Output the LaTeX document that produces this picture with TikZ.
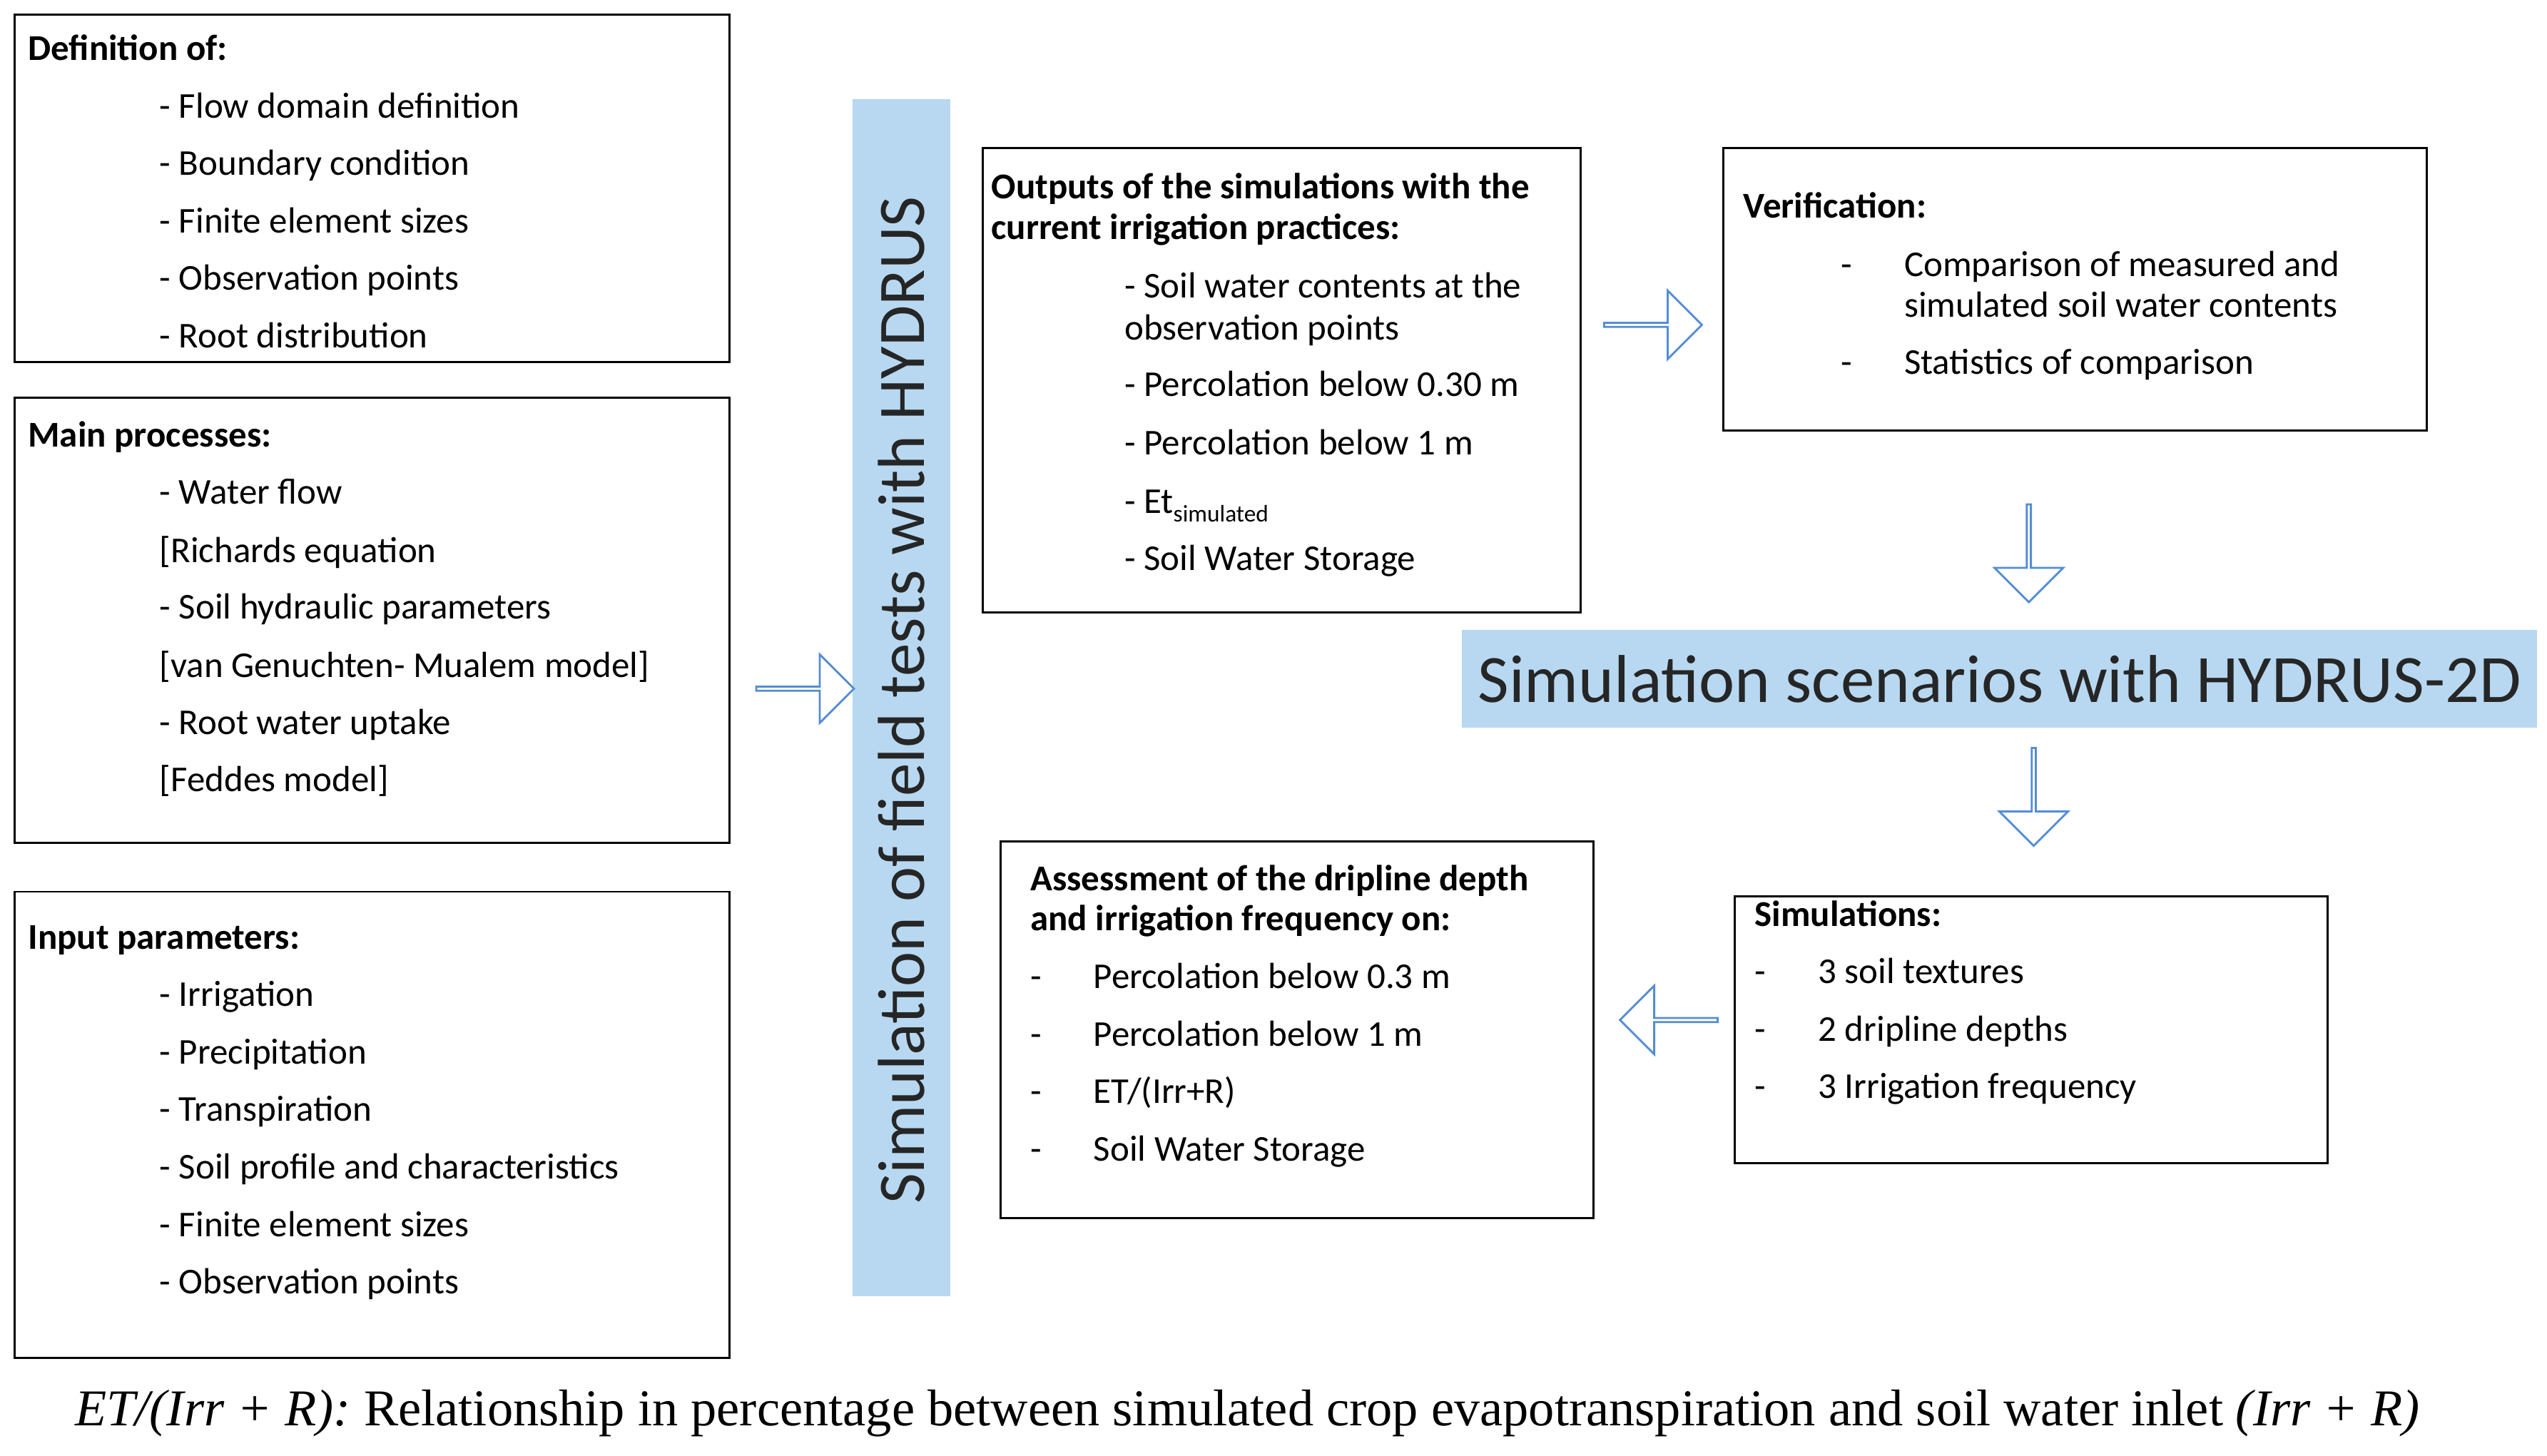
\documentclass[tikz,border=0pt]{standalone}
\usepackage{fontspec}
\setmainfont{Carlito}
\newfontfamily\capfont{Liberation Serif}
\usetikzlibrary{shapes.arrows}
\definecolor{barblue}{RGB}{183,216,240}
\definecolor{arrblue}{RGB}{84,141,212}
\tikzset{
  box/.style={draw=black, thick},
  txt/.style={anchor=base west, inner sep=0pt, yshift=-0.14cm, font=\fontsize{14.5}{17}\selectfont},
  btxt/.style={txt, font=\fontsize{14.5}{17}\selectfont\bfseries},
  blk/.style={single arrow, draw=arrblue, thick, fill=white, inner sep=0pt,
    single arrow head extend=0.22cm, minimum width=0.96cm, minimum height=1.37cm},
}
\begin{document}
\begin{tikzpicture}[x=0.02277cm, y=-0.02277cm]
\useasboundingbox (0,0) rectangle (1568,896);
% left boxes
\draw[box] (9,9) rectangle (449,223);
\draw[box] (9,245) rectangle (449,519);
\draw[box] (9,549) rectangle (449,836);
\node[btxt] (d0) at (17,31) {Definition of:};
\foreach \t [count=\i] in {Flow domain definition, Boundary condition, Finite element sizes, Observation points, Root distribution}
  \node[txt] (d\i) at (98,{31+35.4*\i}) {- \t};
\node[btxt] (m0) at (17,269) {Main processes:};
\node[txt] (m1) at (98,304) {- Water flow};
\node[txt] (m2) at (98,340) {[Richards equation};
\node[txt] (m3) at (98,375) {- Soil hydraulic parameters};
\node[txt] (m4) at (98,411) {[van Genuchten- Mualem model]};
\node[txt] (m5) at (98,446) {- Root water uptake};
\node[txt] (m6) at (98,481) {[Feddes model]};
\node[btxt] (p0) at (17,578) {Input parameters:};
\foreach \t [count=\i] in {Irrigation, Precipitation, Transpiration, Soil profile and characteristics, Finite element sizes, Observation points}
  \node[txt] (p\i) at (98,{578+35.4*\i}) {- \t};
% vertical bar
\fill[barblue] (525,61) rectangle (585,798);
\node[rotate=90, font=\fontsize{26.5}{30}\selectfont, text=black!85] (bar) at (555,431) {Simulation of field tests with HYDRUS};
% outputs
\draw[box] (605,91) rectangle (973,377);
\node[btxt] (o0) at (610,116) {Outputs of the simulations with the};
\node[btxt] (o0b) at (610,141) {current irrigation practices:};
\node[txt] (o1) at (692,177) {- Soil water contents at the};
\node[txt] (o1b) at (692,203) {observation points};
\node[txt] (o2) at (692,238) {- Percolation below 0.30 m};
\node[txt] (o3) at (692,274) {- Percolation below 1 m};
\node[txt] (o4) at (692,310) {- Et\raisebox{-0.5ex}{\fontsize{9.5}{9}\selectfont simulated}};
\node[txt] (o5) at (692,345) {- Soil Water Storage};
% verification
\draw[box] (1061,91) rectangle (1494,265);
\node[btxt] (v0) at (1073,128) {Verification:};
\node[txt] (v1d) at (1133,164) {-};
\node[txt] (v1) at (1172,164) {Comparison of measured and};
\node[txt] (v1b) at (1172,189) {simulated soil water contents};
\node[txt] (v2d) at (1133,224) {-};
\node[txt] (v2) at (1172,224) {Statistics of comparison};
% scenarios band
\fill[barblue] (900,388) rectangle (1562,448);
\node[font=\fontsize{27}{30}\selectfont, text=black!85] (sc) at (1231,418) {Simulation scenarios with HYDRUS-2D};
% assessment
\draw[box] (616,518) rectangle (981,750);
\node[btxt] (a0) at (634,542) {Assessment of the dripline depth};
\node[btxt] (a0b) at (634,567) {and irrigation frequency on:};
\foreach \t [count=\i] in {Percolation below 0.3 m, Percolation below 1 m, ET/(Irr+R), Soil Water Storage}{
  \node[txt] (ad\i) at (634,{567+35.4*\i}) {-};
  \node[txt] (a\i) at (673,{567+35.4*\i}) {\t};}
% simulations
\draw[box] (1068,552) rectangle (1433,716);
\node[btxt] (s0) at (1080,564) {Simulations:};
\foreach \t [count=\i] in {3 soil textures, 2 dripline depths, 3 Irrigation frequency}{
  \node[txt] (sd\i) at (1080,{564+35.4*\i}) {-};
  \node[txt] (s\i) at (1119,{564+35.4*\i}) {\t};}
% block arrows
\node[blk] (ar1) at (495,424) {};
\node[blk] (ar2) at (1017,200) {};
\node[blk, shape border rotate=270] (ar3) at (1249,340) {};
\node[blk, shape border rotate=270] (ar4) at (1252,490) {};
\node[blk, shape border rotate=180] (ar5) at (1028,628) {};
% caption
\node[font=\capfont\fontsize{20.6}{24}\selectfont] (cap) at (768,870)
  {\textit{ET/(Irr + R):} Relationship in percentage between simulated crop evapotranspiration and soil water inlet \textit{(Irr + R)}};
\end{tikzpicture}
\end{document}
